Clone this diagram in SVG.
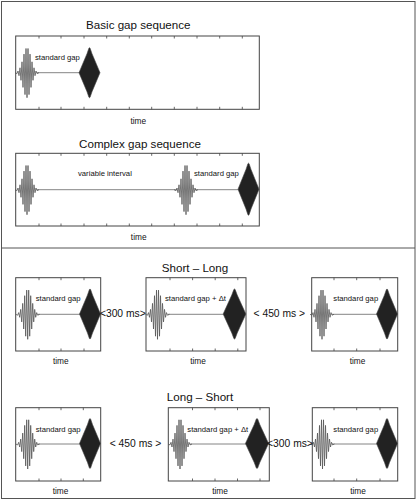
<svg xmlns="http://www.w3.org/2000/svg" xmlns:xlink="http://www.w3.org/1999/xlink" width="417" height="501" viewBox="0 0 417 501">
<style>
.frame{fill:none;stroke:#555;stroke-width:1}
.box{fill:#fff;stroke:#444;stroke-width:1}
.tick{stroke:#444;stroke-width:0.8}
.gap{stroke:#666;stroke-width:0.8}
.burst{fill:none;stroke:#555;stroke-width:0.8;stroke-linejoin:miter}
.dia{fill:#222;stroke:#444;stroke-width:0.6}
.title{font-family:"Liberation Sans",Arial,sans-serif;font-size:11.6px;fill:#111;text-anchor:middle}
.time{font-family:"Liberation Sans",Arial,sans-serif;font-size:8.3px;fill:#111;text-anchor:middle}
.lab{font-family:"Liberation Sans",Arial,sans-serif;font-size:7.7px;fill:#111}
.ms{font-family:"Liberation Sans",Arial,sans-serif;font-size:10.3px;fill:#111;text-anchor:middle}
</style>
<defs>
<path id="burst" class="burst" d="M-12,0 L-10,0.9 L-9,-1.7 L-8,3 L-7,-4.9 L-6,7.6 L-5,-10.9 L-4,14.7 L-3,-18.6 L-2,21.9 L-1,-24.2 L0,25 L1,-24.2 L2,21.9 L3,-18.6 L4,14.7 L5,-10.9 L6,7.6 L7,-4.9 L8,3 L9,-1.7 L10,0.9 L12,0"/>
<path id="dia" class="dia" d="M-10.5,0 L-2.5,-19 L-0.6,-24.5 L0,-25 L0.6,-24.5 L2.5,-19 L10.5,0 L2.5,19 L0.6,24.5 L0,25 L-0.6,24.5 L-2.5,19 Z"/>
</defs>
<rect class="frame" x="1.5" y="1.5" width="413.5" height="497"/>
<line class="frame" x1="1.5" y1="248" x2="415" y2="248"/>

<g id="basic">
<text class="title" x="138.3" y="29">Basic gap sequence</text>
<rect class="box" x="15.7" y="36" width="243.6" height="73.3"/>
<path class="tick" d="M39,36v2.5M61,36v2.5M84,36v2.5M106.7,36v2.5M129.3,36v2.5M151.7,36v2.5M174.3,36v2.5M197,36v2.5M219.7,36v2.5M242.3,36v2.5M39,109.3v-2.5M61,109.3v-2.5M84,109.3v-2.5M106.7,109.3v-2.5M129.3,109.3v-2.5M151.7,109.3v-2.5M174.3,109.3v-2.5M197,109.3v-2.5M219.7,109.3v-2.5M242.3,109.3v-2.5"/>
<line class="gap" x1="37" y1="72.7" x2="80" y2="72.7"/>
<use xlink:href="#burst" transform="translate(27,72.7)"/>
<use xlink:href="#dia" transform="translate(89.5,72.7)"/>
<text class="lab" x="35" y="60">standard gap</text>
<text class="time" x="138.3" y="124">time</text>
</g>

<g id="complex">
<text class="title" x="140" y="147.7">Complex gap sequence</text>
<rect class="box" x="15.7" y="153.3" width="243.6" height="72.7"/>
<path class="tick" d="M39,153.3v2.5M61,153.3v2.5M84,153.3v2.5M106.7,153.3v2.5M129.3,153.3v2.5M151.7,153.3v2.5M174.3,153.3v2.5M197,153.3v2.5M219.7,153.3v2.5M242.3,153.3v2.5M39,226v-2.5M61,226v-2.5M84,226v-2.5M106.7,226v-2.5M129.3,226v-2.5M151.7,226v-2.5M174.3,226v-2.5M197,226v-2.5M219.7,226v-2.5M242.3,226v-2.5"/>
<line class="gap" x1="37" y1="189.7" x2="177" y2="189.7"/>
<line class="gap" x1="195" y1="189.7" x2="238" y2="189.7"/>
<use xlink:href="#burst" transform="translate(27,189.7)"/>
<use xlink:href="#burst" transform="translate(186,189.7)"/>
<use xlink:href="#dia" transform="translate(248.5,189.2) scale(1,1.04)"/>
<text class="lab" x="78" y="176">variable interval</text>
<text class="lab" x="194" y="176">standard gap</text>
<text class="time" x="138.7" y="240">time</text>
</g>

<g id="short-long">
<text class="title" x="195" y="272.3">Short – Long</text>
<g id="sl-box1">
<rect class="box" x="15.7" y="277.7" width="85" height="73.3"/>
<path class="tick" d="M39,277.7v2.5M61,277.7v2.5M84,277.7v2.5M39,351v-2.5M61,351v-2.5M84,351v-2.5"/>
<line class="gap" x1="38" y1="314.3" x2="80" y2="314.3"/>
<use xlink:href="#burst" transform="translate(27.7,314.3)"/>
<use xlink:href="#dia" transform="translate(90,314)"/>
<text class="lab" x="35.7" y="300.5">standard gap</text>
<text class="time" x="60.8" y="364">time</text>
</g>
<g id="sl-box2">
<rect class="box" x="146" y="277.7" width="100" height="73.3"/>
<path class="tick" d="M170,277.7v2.5M192.6,277.7v2.5M215.2,277.7v2.5M237.8,277.7v2.5M170,351v-2.5M192.6,351v-2.5M215.2,351v-2.5M237.8,351v-2.5"/>
<line class="gap" x1="168" y1="314.3" x2="224" y2="314.3"/>
<use xlink:href="#burst" transform="translate(157.5,314.3)"/>
<use xlink:href="#dia" transform="translate(234.5,314) scale(1.08,1)"/>
<text class="lab" x="165" y="300.5">standard gap + Δt</text>
<text class="time" x="198" y="364">time</text>
</g>
<g id="sl-box3">
<rect class="box" x="311.7" y="277.7" width="86" height="73.3"/>
<path class="tick" d="M334,277.7v2.5M356.7,277.7v2.5M380,277.7v2.5M334,351v-2.5M356.7,351v-2.5M380,351v-2.5"/>
<line class="gap" x1="332" y1="314.3" x2="377" y2="314.3"/>
<use xlink:href="#burst" transform="translate(322,314.3)"/>
<use xlink:href="#dia" transform="translate(387,314)"/>
<text class="lab" x="333.3" y="300.5">standard gap</text>
<text class="time" x="357.5" y="364">time</text>
</g>
<text class="ms" x="122.8" y="317">&lt;300 ms&gt;</text>
<text class="ms" x="279.3" y="317">&lt;  450 ms  &gt;</text>
</g>

<g id="long-short">
<text class="title" x="200" y="400.7">Long – Short</text>
<g id="ls-box1">
<rect class="box" x="15.7" y="407.7" width="85" height="73.3"/>
<path class="tick" d="M39,407.7v2.5M61,407.7v2.5M83.3,407.7v2.5M39,481v-2.5M61,481v-2.5M83.3,481v-2.5"/>
<line class="gap" x1="38" y1="444" x2="80" y2="444"/>
<use xlink:href="#burst" transform="translate(27.7,444)"/>
<use xlink:href="#dia" transform="translate(90,443.5)"/>
<text class="lab" x="35.7" y="431.7">standard gap</text>
<text class="time" x="60.5" y="493.5">time</text>
</g>
<g id="ls-box2">
<rect class="box" x="168.3" y="407.7" width="101" height="73.3"/>
<path class="tick" d="M192.5,407.7v2.5M215,407.7v2.5M237.5,407.7v2.5M260,407.7v2.5M192.5,481v-2.5M215,481v-2.5M237.5,481v-2.5M260,481v-2.5"/>
<line class="gap" x1="190" y1="444" x2="246" y2="444"/>
<use xlink:href="#burst" transform="translate(180,444)"/>
<use xlink:href="#dia" transform="translate(257,443.5) scale(1.1,1)"/>
<text class="lab" x="187.3" y="431.7">standard gap + Δt</text>
<text class="time" x="220" y="493.5">time</text>
</g>
<g id="ls-box3">
<rect class="box" x="312.3" y="407.7" width="85.4" height="73.3"/>
<path class="tick" d="M334,407.7v2.5M356.7,407.7v2.5M380,407.7v2.5M334,481v-2.5M356.7,481v-2.5M380,481v-2.5"/>
<line class="gap" x1="332" y1="444" x2="377" y2="444"/>
<use xlink:href="#burst" transform="translate(322.5,444)"/>
<use xlink:href="#dia" transform="translate(387,443.5)"/>
<text class="lab" x="333.3" y="431.7">standard gap</text>
<text class="time" x="358" y="493.5">time</text>
</g>
<text class="ms" x="135.5" y="447">&lt;  450 ms  &gt;</text>
<text class="ms" x="290" y="447">&lt;300 ms&gt;</text>
</g>
</svg>
